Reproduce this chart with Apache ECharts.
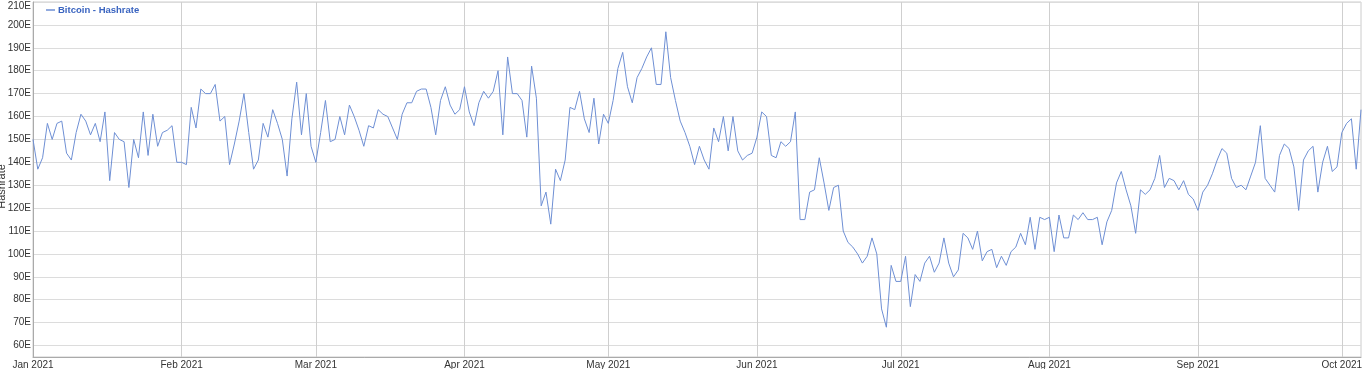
<!DOCTYPE html>
<html>
<head>
<meta charset="utf-8">
<script src="https://cdn.jsdelivr.net/npm/echarts@6/dist/echarts.min.js"></script>
<style>
html,body{margin:0;padding:0;background:#fff;}
#chart{width:1366px;height:369px;}
</style>
</head>
<body>
<div id="chart"></div>
<script>
// Daily hashrate (EH/s), 2021-01-01 .. 2021-10-05
var hashJan = [150,137,142,157,150,157,158,144,141,153,161,158,152,157,149,162,132,153,150,149,129,150,142,162,143,161,147,153,154,156,140];
var hashFeb = [140,139,164,155,172,170,170,174,158,160,139,148,158,170,153,137,141,157,151,163,157,150,134,159,175,152,170,147];
var hashMar = [140,153,167,149,150,160,152,165,160,154,147,156,155,163,161,160,155,150,161,166,166,171,172,172,164,152,167,173,165,161,163];
var hashApr = [173,162,156,166,171,168,171,180,152,186,170,170,167,151,182,168,121,127,113,137,132,141,164,163,171,159,153,168,148,161];
var hashMay = [157,167,181,188,173,166,177,181,186,190,174,174,197,177,167,158,153,147,139,147,141,137,155,149,160,145,160,145,141,143,144];
var hashJun = [151,162,160,143,142,149,147,149,162,115,115,127,128,142,131,119,129,130,110,105,103,100,96,99,107,100,76,68,95,88];
var hashJul = [88,99,77,91,88,96,99,92,96,107,96,90,93,109,107,102,110,97,101,102,94,99,95,101,103,109,104,116,102,116,115];
var hashAug = [116,101,117,107,107,117,115,118,115,115,116,104,114,119,131,136,128,121,109,128,126,128,133,143,129,133,132,128,132,126,124];
var hashSep = [119,127,130,135,141,146,144,133,129,130,128,134,140,156,133,130,127,143,148,146,138,119,141,145,147,127,140,147,136,138];
var hashOct = [153,157,159,137,163];

var monthNames = ['Jan','Feb','Mar','Apr','May','Jun','Jul','Aug','Sep','Oct','Nov','Dec'];
var yTickValues = [60,70,80,90,100,110,120,130,140,150,160,170,180,190,200,210];
var seriesName = 'Bitcoin - Hashrate';
var startDate = '2021-01-01';

var values = [].concat(hashJan, hashFeb, hashMar, hashApr, hashMay, hashJun, hashJul, hashAug, hashSep, hashOct);

// categories: one per day starting at startDate
var categories = [];
var t0 = Date.parse(startDate + 'T00:00:00Z');
for (var i = 0; i < values.length; i++) {
  var d = new Date(t0 + i * 86400000);
  categories.push(d.toISOString().slice(0, 10));
}
function isMonthStart(idx, val) { return val.slice(8, 10) === '01'; }

var FONT = '"Liberation Sans", Arial, sans-serif';
var yMax = yTickValues[yTickValues.length - 1];
var chart = echarts.init(document.getElementById('chart'), null, {renderer: 'canvas'});
chart.setOption({
  animation: false,
  textStyle: {fontFamily: FONT},
  grid: {left: 33, right: 5, top: 2, bottom: 12, show: true, borderColor: '#cccccc', borderWidth: 1,
         containLabel: false, outerBoundsMode: 'none'},
  legend: {
    show: true, left: 46, top: 5, padding: 0, icon: 'rect', itemWidth: 9, itemHeight: 1.5, itemGap: 10,
    textStyle: {fontFamily: FONT, fontSize: 9.5, fontWeight: 'bold', color: '#3a64c0', padding: [0,0,0,-2]},
    data: [seriesName]
  },
  xAxis: {
    type: 'category', data: categories, boundaryGap: false,
    axisLine: {show: true, lineStyle: {color: '#aaaaaa'}},
    axisTick: {show: false},
    axisLabel: {
      interval: isMonthStart, margin: 3, fontFamily: FONT, fontSize: 10, color: '#333',
      formatter: function (v) { return monthNames[parseInt(v.slice(5, 7), 10) - 1] + ' ' + v.slice(0, 4); }
    },
    splitLine: {show: true, interval: isMonthStart, lineStyle: {color: '#cfcfcf', width: 1}}
  },
  yAxis: {
    type: 'value', min: 55, max: yMax, splitNumber: 15, minInterval: 10, maxInterval: 10,
    name: 'Hashrate', nameLocation: 'middle', nameGap: 26, nameMoveOverlap: false,
    nameTextStyle: {fontFamily: FONT, fontSize: 11, color: '#333', padding: [0, 14, 0, 0]},
    axisLine: {show: true, lineStyle: {color: '#aaaaaa'}},
    axisTick: {show: false},
    axisLabel: {
      margin: 2, fontFamily: FONT, fontSize: 10, color: '#333', showMinLabel: false, showMaxLabel: true,
      formatter: function (v) {
        if (yTickValues.indexOf(v) < 0) return '';
        return v === yMax ? '{t|' + v + 'E}' : v + 'E';
      },
      rich: {t: {padding: [9, 0, 0, 0], fontFamily: FONT, fontSize: 10, color: '#333'}}
    },
    splitLine: {show: true, lineStyle: {color: '#dcdcdc', width: 1}}
  },
  series: [{
    name: seriesName, type: 'line', data: values, showSymbol: false, symbol: 'none',
    lineStyle: {color: '#6e8fd4', width: 1}, itemStyle: {color: '#6e8fd4'}
  }]
});
</script>
</body>
</html>
